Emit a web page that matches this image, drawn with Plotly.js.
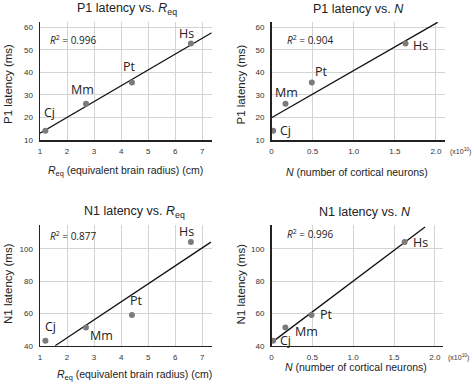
<!DOCTYPE html>
<html>
<head>
<meta charset="utf-8">
<script src="https://cdn.plot.ly/plotly-3.0.1.min.js"></script>
<style>html,body{margin:0;padding:0;background:#fff;}#chart{width:474px;height:384px;}</style>
</head>
<body>
<div id="chart"></div>
<script>
// ---- data ----
const species = ['Cj', 'Mm', 'Pt', 'Hs'];
const Req = [1.2, 2.7, 4.4, 6.58];            // equivalent brain radius (cm)
const N = [0.02, 0.17, 0.49, 1.63];           // cortical neurons (x10^10)
const P1 = [14.1, 26.1, 35.5, 52.8];          // P1 latency (ms)
const N1 = [43.1, 51.2, 59.0, 104.2];         // N1 latency (ms)

// regression lines (end points)
const fitP1ReqX = [1.0, 7.35], fitP1ReqY = [13.0, 57.6];
const fitP1NX = [0.0, 2.02], fitP1NY = [19.9, 62.2];
const fitN1ReqX = [1.56, 7.32], fitN1ReqY = [40.0, 104.1];
const fitN1NX = [0.0, 1.88], fitN1NY = [41.9, 113.4];

const r2Values = ['0.996', '0.904', '0.877', '0.996'];

const reqTicks = [1, 2, 3, 4, 5, 6, 7];
const nTickVals = [0, 0.5, 1.0, 1.5, 2.0];
const nTickText = ['0', '0.5', '1.0', '1.5', '2.0'];
const p1Ticks = [10, 20, 30, 40, 50, 60];
const n1Ticks = [40, 60, 80, 100];

// ---- layout / styling ----
const W = 474, H = 384;
const px = v => v / W;
const py = v => 1 - v / H;
const FONT = 'Liberation Sans, Arial, sans-serif';
const LABELFONT = 'Open Sans, Liberation Sans, sans-serif';

const panels = [
  {xs: Req, ys: P1, fx: fitP1ReqX, fy: fitP1ReqY, xdom: [40, 211.7], ydom: [21.7, 140], xr: [1, 7.35], yr: [10, 62.5],
   xtv: reqTicks, xtt: reqTicks.map(String), ytv: p1Ticks,
   title: 'P1 latency vs. <i>R</i><sub>eq</sub>', tpos: [127, 9],
   xt: '<i>R</i><sub>eq</sub> (equivalent brain radius) (cm)', xtpos: [126, 171],
   yt: 'P1 latency (ms)', ytpos: [8, 84], r2pos: [48, 39.5],
   shifts: [[4, -18], [-3, -14], [-2, -16], [-4, -10]]},
  {xs: N, ys: P1, fx: fitP1NX, fy: fitP1NY, xdom: [271.5, 445], ydom: [21.7, 140], xr: [0, 2.11], yr: [10, 62.5],
   xtv: nTickVals, xtt: nTickText, ytv: p1Ticks,
   title: 'P1 latency vs. <i>N</i>', tpos: [358.5, 9],
   xt: '<i>N</i> (number of cortical neurons)', xtpos: [357, 172],
   yt: 'P1 latency (ms)', ytpos: [240.5, 84], r2pos: [285, 39.5], exp: true,
   shifts: [[12, 0], [1, -11], [10, -11], [15, 2]]},
  {xs: Req, ys: N1, fx: fitN1ReqX, fy: fitN1ReqY, xdom: [40, 211.7], ydom: [225.3, 345.7], xr: [1, 7.35], yr: [40, 114.5],
   xtv: reqTicks, xtt: reqTicks.map(String), ytv: n1Ticks,
   title: 'N1 latency vs. <i>R</i><sub>eq</sub>', tpos: [134, 212],
   xt: '<i>R</i><sub>eq</sub> (equivalent brain radius) (cm)', xtpos: [134, 375],
   yt: 'N1 latency (ms)', ytpos: [8, 284], r2pos: [48, 235.5],
   shifts: [[5, -14], [16, 8], [5, -14], [-4, -10]]},
  {xs: N, ys: N1, fx: fitN1NX, fy: fitN1NY, xdom: [271.5, 443], ydom: [225.3, 345.7], xr: [0, 2.1], yr: [40, 114.5],
   xtv: nTickVals, xtt: nTickText, ytv: n1Ticks,
   title: 'N1 latency vs. <i>N</i>', tpos: [365, 212],
   xt: '<i>N</i> (number of cortical neurons)', xtpos: [356, 367],
   yt: 'N1 latency (ms)', ytpos: [240.5, 284], r2pos: [285, 234], exp: true,
   shifts: [[12, 0], [21, 4], [15, 0], [16, 1]]}
];

const data = [];
const layout = {
  width: W, height: H,
  margin: {l: 0, r: 0, t: 0, b: 0},
  paper_bgcolor: '#ffffff', plot_bgcolor: '#ffffff',
  showlegend: false,
  font: {family: FONT, color: '#222'},
  annotations: []
};

panels.forEach((p, i) => {
  const n = i === 0 ? '' : String(i + 1);
  const xa = 'x' + n, ya = 'y' + n;
  layout['xaxis' + n] = {
    domain: [px(p.xdom[0]), px(p.xdom[1])], range: p.xr, anchor: ya,
    tickmode: 'array', tickvals: p.xtv, ticktext: p.xtt,
    showgrid: true, gridcolor: '#d4d4d4', gridwidth: 1,
    showline: true, linecolor: '#222', linewidth: 1.5,
    zeroline: false, ticks: 'outside', ticklen: 3, tickcolor: 'rgba(0,0,0,0)',
    tickfont: {size: 8, color: '#333', family: FONT}, fixedrange: true
  };
  layout['yaxis' + n] = {
    domain: [py(p.ydom[1]), py(p.ydom[0])], range: p.yr, anchor: xa,
    tickmode: 'array', tickvals: p.ytv,
    showgrid: true, gridcolor: '#d4d4d4', gridwidth: 1,
    showline: true, linecolor: '#222', linewidth: 1.5,
    zeroline: false, ticks: 'outside', ticklen: 4, tickcolor: 'rgba(0,0,0,0)',
    tickfont: {size: 8, color: '#333', family: FONT}, fixedrange: true
  };
  // regression line
  data.push({x: p.fx, y: p.fy, xaxis: xa, yaxis: ya, mode: 'lines', type: 'scatter',
    line: {color: '#111', width: 1.3}, hoverinfo: 'skip'});
  // data points
  data.push({x: p.xs, y: p.ys, xaxis: xa, yaxis: ya, mode: 'markers', type: 'scatter',
    marker: {size: 6, color: '#7b7b7b'}, cliponaxis: false});
  // species labels
  species.forEach((s, k) => {
    layout.annotations.push({x: p.xs[k], y: p.ys[k], xref: xa, yref: ya, text: s, showarrow: false,
      xshift: p.shifts[k][0], yshift: -p.shifts[k][1],
      font: {family: LABELFONT, size: 12.5, color: '#222'}});
  });
  // title
  layout.annotations.push({x: px(p.tpos[0]), y: py(p.tpos[1]), xref: 'paper', yref: 'paper',
    text: p.title, showarrow: false, xanchor: 'center', yanchor: 'middle',
    font: {family: FONT, size: 12.5, color: '#222'}});
  // x axis title
  layout.annotations.push({x: px(p.xtpos[0]), y: py(p.xtpos[1]), xref: 'paper', yref: 'paper',
    text: p.xt, showarrow: false, xanchor: 'center', yanchor: 'middle',
    font: {family: FONT, size: 10.5, color: '#222'}});
  // y axis title
  layout.annotations.push({x: px(p.ytpos[0]), y: py(p.ytpos[1]), xref: 'paper', yref: 'paper',
    text: p.yt, showarrow: false, textangle: -90, xanchor: 'center', yanchor: 'middle',
    font: {family: FONT, size: 11.5, color: '#222'}});
  // R^2 annotation
  layout.annotations.push({x: px(p.r2pos[0]), y: py(p.r2pos[1]), xref: 'paper', yref: 'paper',
    text: '<i>R</i><sup>2</sup> = ' + r2Values[i], showarrow: false, xanchor: 'left', yanchor: 'middle',
    font: {family: LABELFONT, size: 10, color: '#222'}});
  // exponent note
  if (p.exp) {
    layout.annotations.push({x: px(p.xdom[1] + 3), y: py(p.ydom[1] + 11.5), xref: 'paper', yref: 'paper',
      text: '(x10<sup>10</sup>)', showarrow: false, xanchor: 'left', yanchor: 'middle',
      font: {family: FONT, size: 7, color: '#333'}});
  }
});

Plotly.newPlot('chart', data, layout, {staticPlot: true, displayModeBar: false});
</script>
</body>
</html>
